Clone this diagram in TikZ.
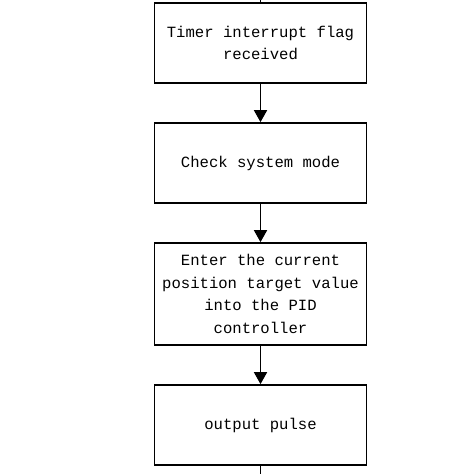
\documentclass[tikz,border=0pt]{standalone}
\usepackage{fontspec}
\setmonofont{Liberation Mono}
\usetikzlibrary{arrows.meta}

\tikzset{
  flowbox/.style={draw, line width=1.7pt, minimum width=212pt, minimum height=80pt,
    align=center, inner sep=2pt, font=\ttfamily\fontsize{15.6}{22.6}\selectfont},
  flowarrow/.style={line width=1.7pt, -{Triangle[width=13pt,length=12pt]}}
}

\begin{document}
\begin{tikzpicture}[x=1pt,y=-1pt]
    \useasboundingbox (0,0) rectangle (474,474);
    \node[flowbox] (flag) at (260.5,43) {Timer interrupt flag\\received};
    \node[flowbox] (mode) at (260.5,163) {Check system mode};
    \node[flowbox, minimum height=102pt] (pid) at (260.5,294)
        {Enter the current\\position target value\\into the PID\\controller};
    \node[flowbox] (pulse) at (260.5,425) {output pulse};
    \coordinate (top) at (260.5,0);
    \coordinate (bottom) at (260.5,474);
    \draw[line width=1.7pt] (top) -- (flag);
    \draw[flowarrow] (flag) -- (mode);
    \draw[flowarrow] (mode) -- (pid);
    \draw[flowarrow] (pid) -- (pulse);
    \draw[line width=1.7pt] (pulse) -- (bottom);
\end{tikzpicture}
\end{document}
